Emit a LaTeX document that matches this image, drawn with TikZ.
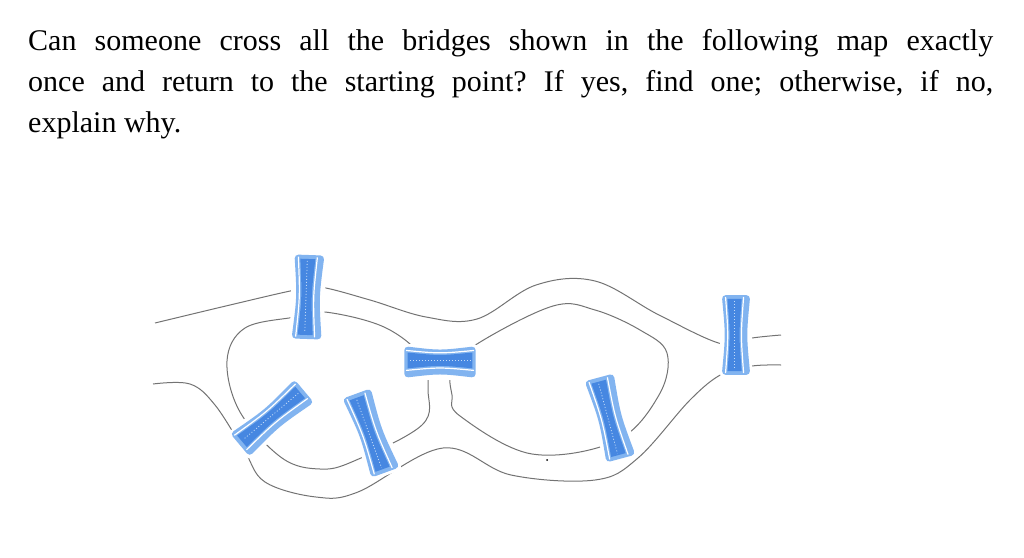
\documentclass[tikz,border=0pt]{standalone}
\usepackage{fontspec}
\setmainfont{Liberation Serif}
\begin{document}
\frenchspacing
\begin{tikzpicture}[x=1pt,y=-1pt,
  bank/.style={draw=black!55,line width=1pt},
  txt/.style={anchor=base west,inner sep=0pt,font=\fontsize{30}{41}\selectfont}]
\definecolor{bA}{RGB}{130,180,240}
\definecolor{bB}{RGB}{70,135,225}
\tikzset{brg/.pic={
  \fill[white,rounded corners=4pt] (-17,-45) rectangle (17,45);
  \fill[bA,rounded corners=4pt] (-15,-42) .. controls (-11,0) .. (-15,42) -- (15,42) .. controls (11,0) .. (15,-42) -- cycle;
  \fill[bB] (-9,-38) .. controls (-6,0) .. (-9,38) -- (6,38) .. controls (3,0) .. (6,-38) -- cycle;
  \draw[white,line width=1.2pt] (-11,-40) .. controls (-8,0) .. (-11,40);
  \draw[white,line width=1.2pt] (8,-40) .. controls (5,0) .. (8,40);
  \draw[bA!50,line width=0.8pt,dash pattern=on 1pt off 2pt] (-2,-36) -- (-2,36);
}}
\useasboundingbox (0,0) rectangle (1024,557);
\node[txt] (l1) at (28,50) {\makebox[965pt][s]{Can someone cross all the bridges shown in the following map exactly}};
\node[txt] (l2) at (28,91) {\makebox[965pt][s]{once and return to the starting point? If yes, find one; otherwise, if no,}};
\node[txt] (l3) at (28,132) {explain why.};
% top bank
\draw[bank] plot[smooth,tension=0.6] coordinates {(155,323) (230,305) (295,290) (320,287) (370,300) (426,317) (477,319) (536,285) (595,281) (659,315) (722,344) (752,338) (781,335)};
% bottom bank
\draw[bank] plot[smooth,tension=0.6] coordinates {(153,384) (190,384) (215,405) (244,450) (265,482) (316,497) (358,492) (443,448) (511,475) (595,480) (638,458) (690,400) (722,374) (752,366) (781,365)};
% left island
\draw[bank] plot[smooth cycle,tension=0.6] coordinates {(295,317) (325,312) (384,327) (422,357) (428,390) (422,425) (354,461) (320,469) (282,458) (240,412) (227,361) (245,328)};
% right island
\draw[bank] plot[smooth cycle,tension=0.6] coordinates {(452,370) (477,344) (553,306) (595,310) (640,330) (667,353) (659,395) (616,441) (532,454) (460,416) (452,395)};
% bridges
\pic[rotate=-2] at (308,297) {brg};
\pic[rotate=-90,xscale=1.05,yscale=0.85] at (440,362) {brg};
\pic[rotate=-50] at (272,418) {brg};
\pic[rotate=20] at (371,433) {brg};
\pic[rotate=15] at (610,418) {brg};
\pic[rotate=0,scale=0.95] at (736,335) {brg};
\fill (547,460) circle (1pt);
\end{tikzpicture}
\end{document}
